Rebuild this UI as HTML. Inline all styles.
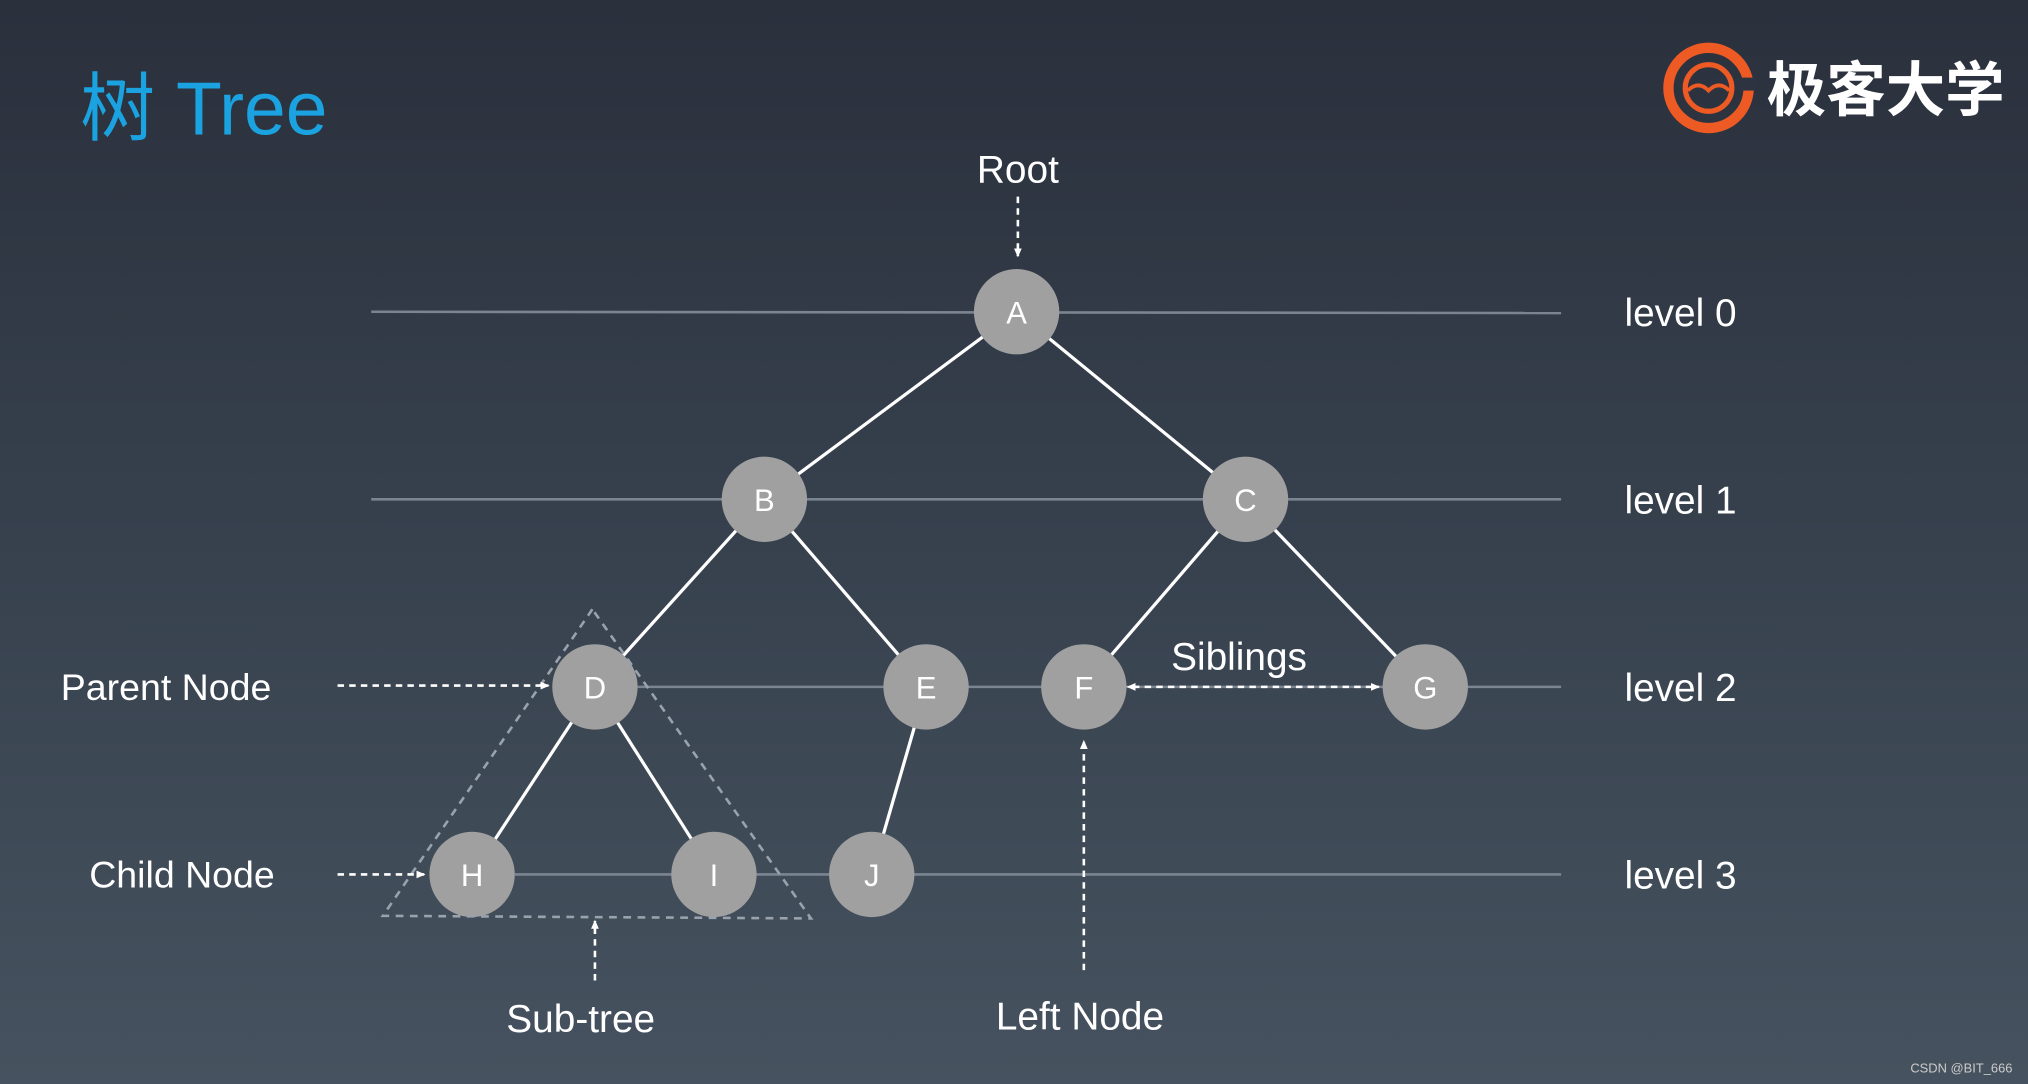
<!DOCTYPE html>
<html><head><meta charset="utf-8"><style>
html,body{margin:0;padding:0;}
body{width:2028px;height:1084px;overflow:hidden;background:linear-gradient(180deg,#2a303c 0%,#37414e 50%,#46525f 100%);}
svg{display:block}
text{font-family:"Liberation Sans","Noto Sans CJK SC",sans-serif;}
</style></head><body>
<svg width="2028" height="1084" viewBox="0 0 1568 838" preserveAspectRatio="none">
<defs>
<marker id="ar" markerWidth="8" markerHeight="8" refX="6" refY="4" orient="auto" markerUnits="userSpaceOnUse"><path d="M0,1 L7,4 L0,7z" fill="#fff"/></marker>
<marker id="as" markerWidth="8" markerHeight="8" refX="2" refY="4" orient="auto-start-reverse" markerUnits="userSpaceOnUse"><path d="M0,1 L7,4 L0,7z" fill="#fff"/></marker>
</defs>
<text x="62" y="104" font-size="58" fill="#1aa3e0">树 Tree</text>
<!-- logo -->
<circle cx="1321" cy="68" r="31" fill="none" stroke="#ee5a24" stroke-width="8"/>
<rect x="1322" y="60" width="36" height="10" fill="#2d3340"/>
<circle cx="1321" cy="68" r="18" fill="none" stroke="#ee5a24" stroke-width="4"/>
<path d="M1305 70 q8 -8 16 0 q8 -8 16 0" fill="none" stroke="#ee5a24" stroke-width="3"/>
<text x="1366" y="86" font-size="46" font-weight="bold" fill="#fff" font-family="Noto Sans CJK SC, sans-serif">极客大学</text>
<!-- level lines -->
<g stroke="#7b8591" stroke-width="2">
<line x1="287" y1="241" x2="1207" y2="242"/>
<line x1="287" y1="386" x2="1207" y2="386"/>
<line x1="493" y1="531" x2="1207" y2="531"/>
<line x1="398" y1="676" x2="1207" y2="676"/>
</g>
<g fill="#fff" font-size="30">
<text x="1256" y="252">level 0</text>
<text x="1256" y="397">level 1</text>
<text x="1256" y="542">level 2</text>
<text x="1256" y="687">level 3</text>
</g>
<!-- edges -->
<g stroke="#fff" stroke-width="2.5">
<line x1="786" y1="241" x2="591" y2="386"/>
<line x1="786" y1="241" x2="963" y2="386"/>
<line x1="591" y1="386" x2="460" y2="531"/>
<line x1="591" y1="386" x2="716" y2="531"/>
<line x1="963" y1="386" x2="838" y2="531"/>
<line x1="963" y1="386" x2="1102" y2="531"/>
<line x1="460" y1="531" x2="365" y2="676"/>
<line x1="460" y1="531" x2="552" y2="676"/>
<line x1="716" y1="531" x2="674" y2="676"/>
</g>
<!-- nodes -->
<g fill="#a0a0a0">
<circle cx="786" cy="241" r="33"/><circle cx="591" cy="386" r="33"/><circle cx="963" cy="386" r="33"/>
<circle cx="460" cy="531" r="33"/><circle cx="716" cy="531" r="33"/><circle cx="838" cy="531" r="33"/><circle cx="1102" cy="531" r="33"/>
<circle cx="365" cy="676" r="33"/><circle cx="552" cy="676" r="33"/><circle cx="674" cy="676" r="33"/>
</g>
<!-- subtree triangle -->
<polygon points="458,471 296,708 627,710" fill="none" stroke="#9aa3ad" stroke-width="2" stroke-dasharray="6,5"/>
<g fill="#fff" font-size="24" text-anchor="middle">
<text x="786" y="250">A</text><text x="591" y="395">B</text><text x="963" y="395">C</text>
<text x="460" y="540">D</text><text x="716" y="540">E</text><text x="838" y="540">F</text><text x="1102" y="540">G</text>
<text x="365" y="685">H</text><text x="552" y="685">I</text><text x="674" y="685">J</text>
</g>
<!-- dashed arrows -->
<g stroke="#fff" stroke-width="2" stroke-dasharray="5,4" fill="none">
<line x1="787" y1="152" x2="787" y2="198" marker-end="url(#ar)"/>
<line x1="261" y1="530" x2="424" y2="530" marker-end="url(#ar)"/>
<line x1="261" y1="676" x2="328" y2="676" marker-end="url(#ar)"/>
<line x1="460" y1="758" x2="460" y2="712" marker-end="url(#ar)"/>
<line x1="838" y1="750" x2="838" y2="573" marker-end="url(#ar)"/>
<line x1="876" y1="531" x2="1066" y2="531" marker-start="url(#as)" marker-end="url(#ar)"/>
</g>
<g fill="#fff" font-size="30">
<text x="787" y="141" text-anchor="middle">Root</text>
<text x="47" y="541" font-size="29">Parent Node</text>
<text x="69" y="686" font-size="29">Child Node</text>
<text x="958" y="518" text-anchor="middle">Siblings</text>
<text x="449" y="798" text-anchor="middle">Sub-tree</text>
<text x="835" y="796" text-anchor="middle">Left Node</text>
</g>
<text x="1556" y="829" font-size="10" fill="#ccc" text-anchor="end">CSDN @BIT_666</text>
</svg>
</body></html>
